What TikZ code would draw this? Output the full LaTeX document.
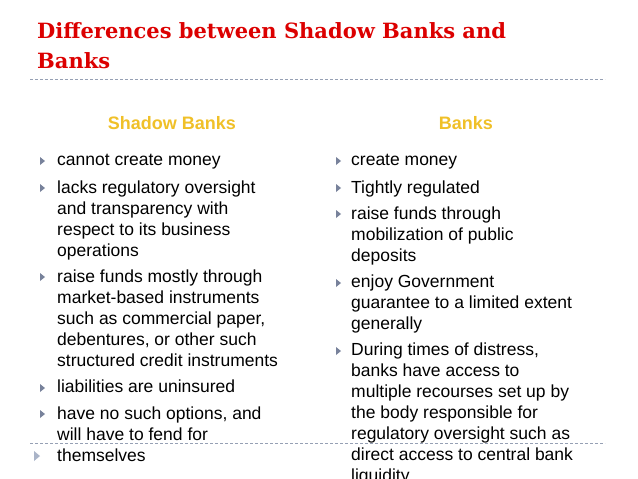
\documentclass[tikz,border=0pt]{standalone}
\usepackage{fontspec}
\setmainfont{Liberation Sans}
\newfontfamily\titlefont{DejaVu Serif}
\begin{document}
\begin{tikzpicture}[x=1pt,y=-1pt,
  item/.style={anchor=north west,inner sep=0pt,align=left,font=\fontsize{17.5}{21}\selectfont},
  head/.style={anchor=base,inner sep=0pt,font=\fontsize{18}{21}\selectfont\bfseries,text={rgb,255:red,240;green,192;blue,40}},
  rule/.style={densely dashed,draw={rgb,255:red,150;green,160;blue,180},line width=0.5pt},
  bul/.style={fill={rgb,255:red,120;green,130;blue,155}}]
\clip (0,0) rectangle (638,479);
\useasboundingbox (0,0) rectangle (638,479);
\fill[white] (0,0) rectangle (638,479);
\node[anchor=north west,inner sep=0pt,align=left,text={rgb,255:red,220;green,0;blue,0},font=\titlefont\fontsize{21}{30}\selectfont\bfseries] (t) at (37,22) {Differences between Shadow Banks and\\Banks};
\coordinate (r1a) at (30,79); \coordinate (r1b) at (605,79);
\draw[rule] (r1a) -- (r1b);
\coordinate (r2a) at (30,443); \coordinate (r2b) at (605,443);
\draw[rule] (r2a) -- (r2b);
\node[head] (h1) at (172,129) {Shadow Banks};
\node[head] (h2) at (466,129) {Banks};
% left
\foreach \y in {166,193,282,393,419} \fill[bul] (40,\y-9) -- (45,\y-5) -- (40,\y-1) -- cycle;
\fill[fill={rgb,255:red,170;green,180;blue,200}] (34,451) -- (40,456) -- (34,461) -- cycle;
\node[item] (l1) at (57,154) {cannot create money};
\node[item] (l2) at (57,181) {lacks regulatory oversight\\and transparency with\\respect to its business\\operations};
\node[item] (l3) at (57,270) {raise funds mostly through\\market-based instruments\\such as commercial paper,\\debentures, or other such\\structured credit instruments};
\node[item] (l4) at (57,380) {liabilities are uninsured};
\node[item] (l5) at (57,407) {have no such options, and\\will have to fend for\\themselves};
% right
\foreach \y in {166,193,219,288,356} \fill[bul] (336,\y-9) -- (341,\y-5) -- (336,\y-1) -- cycle;
\node[item] (r1) at (351,154) {create money};
\node[item] (r2) at (351,181) {Tightly regulated};
\node[item] (r3) at (351,207) {raise funds through\\mobilization of public\\deposits};
\node[item] (r4) at (351,275) {enjoy Government\\guarantee to a limited extent\\generally};
\node[item] (r5) at (351,343) {During times of distress,\\banks have access to\\multiple recourses set up by\\the body responsible for\\regulatory oversight such as\\direct access to central bank\\liquidity};
\end{tikzpicture}
\end{document}
